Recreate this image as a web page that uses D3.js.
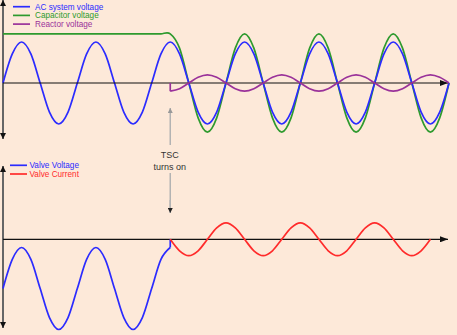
<!DOCTYPE html>
<html><head><meta charset="utf-8">
<script src="https://cdn.jsdelivr.net/npm/d3@7"></script>
<style>
html,body{margin:0;padding:0;background:#fde9d9;}
svg{display:block;font-family:"Liberation Sans",Arial,sans-serif;}
</style></head><body>
<svg id="c" width="457" height="335"></svg>
<script>
// time axis: samples every 1/8 of an AC cycle, 6 cycles shown
const sampleStep = 0.125;          // cycles per sample
const totalCycles = 6;
const tscOnTime = 2.25;            // TSC turns on (cycles)

// Top chart series (per-unit, AC peak = 1)
const acSystemVoltage = [
  0, 0.71, 1, 0.71, 0, -0.71, -1, -0.71,
  0, 0.71, 1, 0.71, 0, -0.71, -1, -0.71,
  0, 0.71, 1, 0.71, 0, -0.71, -1, -0.71,
  0, 0.71, 1, 0.71, 0, -0.71, -1, -0.71,
  0, 0.71, 1, 0.71, 0, -0.71, -1, -0.71,
  0, 0.71, 1, 0.71, 0, -0.71, -1, -0.71,
  0
];
const capacitorVoltage = [
  1.2, 1.2, 1.2, 1.2, 1.2, 1.2, 1.2, 1.2,
  1.2, 1.2, 1.2, 1.2, 1.2, 1.2, 1.2, 1.2,
  1.2, 1.2, 1.2, 0.85, 0, -0.85, -1.2, -0.85,
  0, 0.85, 1.2, 0.85, 0, -0.85, -1.2, -0.85,
  0, 0.85, 1.2, 0.85, 0, -0.85, -1.2, -0.85,
  0, 0.85, 1.2, 0.85, 0, -0.85, -1.2, -0.85,
  0
];
// reactor voltage from TSC turn-on (index 18) to end
const reactorVoltage = [
  -0.2, -0.14, 0, 0.14, 0.2, 0.14, 0, -0.14,
  -0.2, -0.14, 0, 0.14, 0.2, 0.14, 0, -0.14,
  -0.2, -0.14, 0, 0.14, 0.2, 0.14, 0, -0.14,
  -0.2, -0.14, 0, 0.14, 0.2, 0.14, 0
];
// Bottom chart series
// valve voltage from start until TSC turn-on (index 0..18)
const valveVoltage = [
  -1.2, -0.49, -0.2, -0.49, -1.2, -1.91, -2.2, -1.91,
  -1.2, -0.49, -0.2, -0.49, -1.2, -1.91, -2.2, -1.91,
  -1.2, -0.49, -0.2
];
// valve current from TSC turn-on (index 18..46)
const valveCurrent = [
  0, -0.28, -0.4, -0.28, 0, 0.28, 0.4, 0.28,
  0, -0.28, -0.4, -0.28, 0, 0.28, 0.4, 0.28,
  0, -0.28, -0.4, -0.28, 0, 0.28, 0.4, 0.28,
  0, -0.28, -0.4, -0.28, 0
];
const topLegend = ["AC system voltage", "Capacitor voltage", "Reactor voltage"];
const bottomLegend = ["Valve Voltage", "Valve Current"];
const annotation = ["TSC", "turns on"];

const colors = {ac:"#2b2bff", cap:"#2e9a2e", reac:"#9a329a", vv:"#2b2bff", vc:"#ff2b2b"};

const svg = d3.select("#c");
const x = d3.scaleLinear().domain([0, totalCycles]).range([3, 449]);
const yTop = d3.scaleLinear().domain([-1, 1]).range([124, 42]);
const yBot = d3.scaleLinear().domain([-1, 1]).range([280.3, 198.3]);

const defs = svg.append("defs");
function marker(id, color, w, h) {
  defs.append("marker").attr("id", id).attr("viewBox", `0 0 ${w} ${h}`)
    .attr("refX", w).attr("refY", h/2).attr("markerWidth", w).attr("markerHeight", h)
    .attr("markerUnits", "userSpaceOnUse").attr("orient", "auto-start-reverse")
    .append("path").attr("d", `M0,0L${w},${h/2}L0,${h}Z`).attr("fill", color);
}
marker("arrH", "#111", 8, 6);
marker("arrV", "#111", 6, 6);
marker("arrG", "#999", 5, 5);
marker("arrD", "#222", 5, 5);

function series(vals, startIdx) {
  return vals.map((v, i) => [(startIdx + i) * sampleStep, v]);
}

// vertical axes
function vAxis(yTopEnd, yBottomEnd) {
  svg.append("line").attr("x1", x(0)).attr("x2", x(0))
    .attr("y1", yBottomEnd).attr("y2", yTopEnd)
    .attr("stroke", "#666").attr("stroke-width", 2)
    .attr("marker-end", "url(#arrV)").attr("marker-start", "url(#arrV)");
}
vAxis(0, 139);
vAxis(166, 328);

function lineGen(y) {
  return d3.line().x(d => x(d[0])).y(d => y(d[1])).curve(d3.curveCardinal.tension(0));
}
const lTop = lineGen(yTop), lBot = lineGen(yBot);
function path(d, color) {
  svg.append("path").attr("d", d).attr("fill", "none").attr("stroke", color)
    .attr("stroke-width", 1.7).attr("stroke-linejoin", "round");
}
function step(y, t, v0, v1, color) {
  svg.append("line").attr("x1", x(t)).attr("x2", x(t)).attr("y1", y(v0)).attr("y2", y(v1))
    .attr("stroke", color).attr("stroke-width", 1.7);
}

// horizontal axis lines
function hAxis(y) {
  svg.append("line").attr("x1", x(0)).attr("x2", 448).attr("y1", y(0)).attr("y2", y(0))
    .attr("stroke", "#111").attr("stroke-width", 1.2).attr("marker-end", "url(#arrH)");
}

// top chart curves
path(lTop(series(capacitorVoltage, 0)), colors.cap);
path(lTop(series(acSystemVoltage, 0)), colors.ac);
hAxis(yTop);
const onIdx = Math.round(tscOnTime / sampleStep);
step(yTop, tscOnTime, 0, reactorVoltage[0], colors.reac);
path(lTop(series(reactorVoltage, onIdx)), colors.reac);

// bottom chart
hAxis(yBot);
path(lBot(series(valveVoltage, 0)), colors.vv);
step(yBot, tscOnTime, valveVoltage[valveVoltage.length - 1], 0, colors.vv);
path(lBot(series(valveCurrent, onIdx)), colors.vc);

// TSC annotation
const xa = x(tscOnTime);
svg.append("line").attr("x1", xa).attr("x2", xa).attr("y1", 213).attr("y2", 108)
  .attr("stroke", "#b3b3b3").attr("stroke-width", 1.5)
  .attr("marker-end", "url(#arrG)");
svg.append("line").attr("x1", xa).attr("x2", xa).attr("y1", 200).attr("y2", 213)
  .attr("stroke", "#b3b3b3").attr("stroke-width", 1.5)
  .attr("marker-end", "url(#arrD)");
svg.append("rect").attr("x", xa - 20).attr("y", 145).attr("width", 40).attr("height", 28)
  .attr("fill", "#fde9d9");
svg.selectAll("text.ann").data(annotation).join("text").attr("class", "ann")
  .attr("x", xa - 0.5).attr("y", (d, i) => 157.5 + i * 12).attr("text-anchor", "middle")
  .attr("font-size", 9).attr("fill", "#333").text(d => d);

// legends
function legend(items, cols, x0, x1, tx, y0, dy) {
  items.forEach((name, i) => {
    const yy = y0 + i * dy;
    svg.append("line").attr("x1", x0).attr("x2", x1).attr("y1", yy).attr("y2", yy)
      .attr("stroke", cols[i]).attr("stroke-width", 1.7);
    svg.append("text").attr("x", tx).attr("y", yy + 3).attr("font-size", 8.2)
      .attr("fill", cols[i]).text(name);
  });
}
legend(topLegend, [colors.ac, colors.cap, colors.reac], 13, 30, 35, 6.7, 8.7);
legend(bottomLegend, [colors.vv, colors.vc], 10, 27, 29.5, 165.3, 8.7);
</script>
</body></html>
